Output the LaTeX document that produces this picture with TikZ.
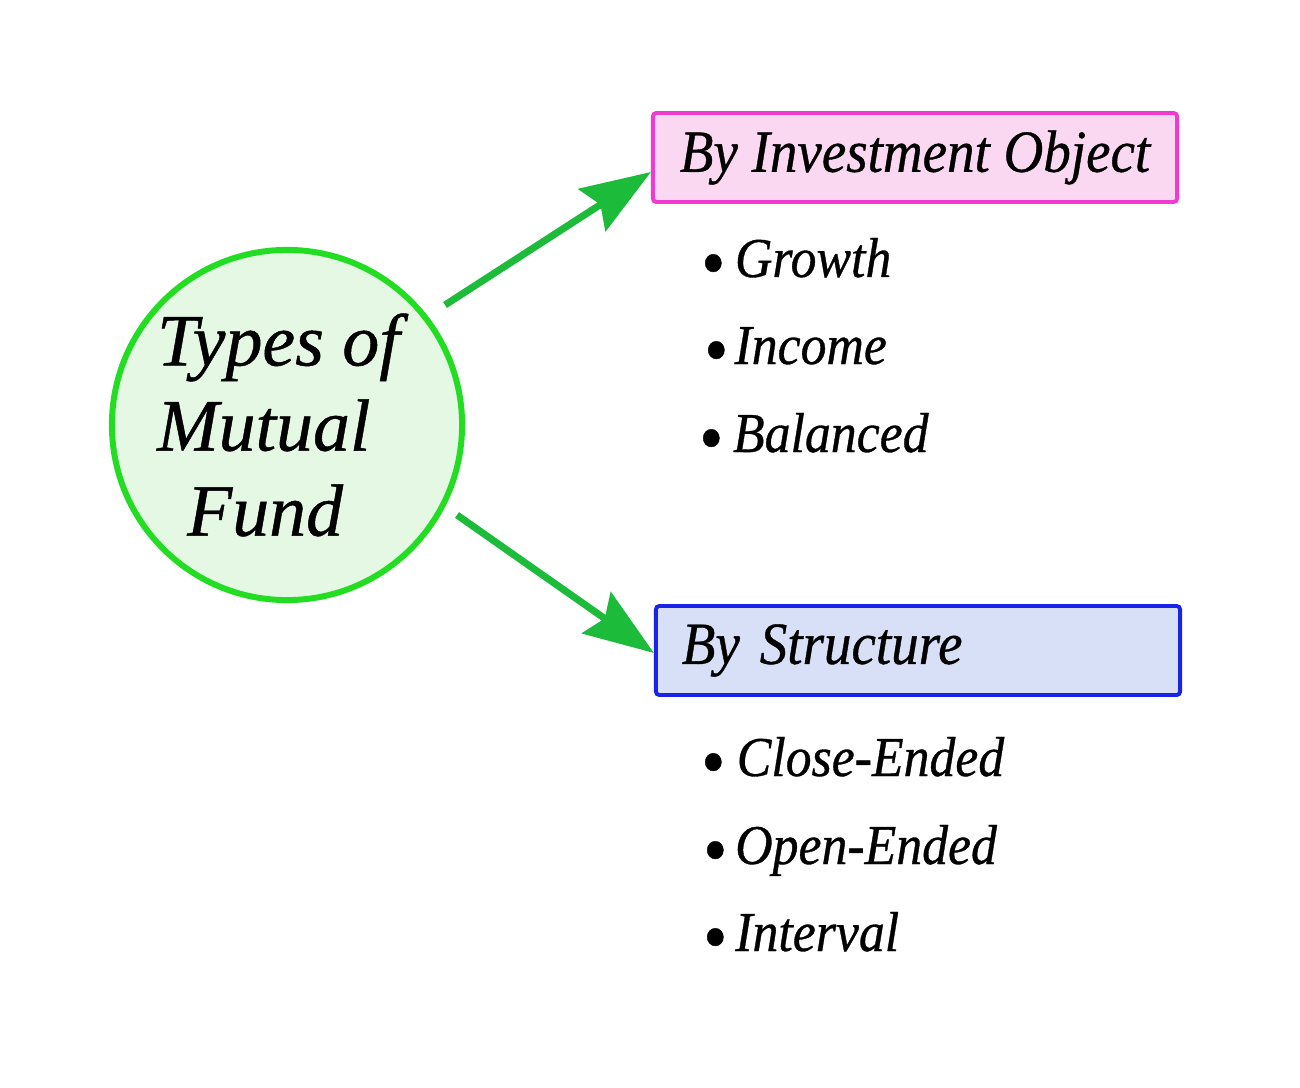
\documentclass[tikz,border=0pt]{standalone}
\usepackage{fontspec}
\setmainfont{Liberation Serif}[FakeBold=0.6]
\newfontfamily\listfont{Liberation Serif}[FakeStretch=0.92, FakeBold=0.6]
\usepackage{tikz}
\usetikzlibrary{arrows.meta, shapes.geometric}

\definecolor{fundgreen}{HTML}{22DD22}
\definecolor{fundfill}{HTML}{E4F8E4}
\definecolor{arrowgreen}{HTML}{1DBB3A}
\definecolor{objline}{HTML}{F03AD2}
\definecolor{objfill}{HTML}{FAD8F2}
\definecolor{strline}{HTML}{1A24E8}
\definecolor{strfill}{HTML}{D8E0F8}

\newcommand{\itembullet}{\raisebox{-3pt}{\fontsize{21}{21}\selectfont\textbullet}}

\begin{document}
\begin{tikzpicture} [x=0.01cm, y=-0.01cm,
  catbox/.style = {draw, rectangle, rounded corners=1pt, line width=1.1pt,
    minimum width=5.24cm, minimum height=0.89cm, inner sep=0pt,
    font=\listfont\fontsize{17}{20}\selectfont\itshape},
  item/.style = {anchor=base west, inner sep=0pt, font=\listfont\fontsize{16}{19}\selectfont\itshape},
  link/.style = {draw=arrowgreen, line width=2pt,
    -{Stealth[length=7mm, width=5mm, inset=1mm, fill=arrowgreen]}}]
\useasboundingbox (0,0) rectangle (1300,1088);
% main circle
\node[draw=fundgreen, fill=fundfill, circle, line width=1.7pt, minimum size=3.5cm, inner sep=0pt] (fund) at (287,425) {};
\node[align=left, inner sep=0pt, font=\fontsize{21}{24.2}\selectfont\itshape] (fundtext) at ([xshift=-0.085cm]fund.center)
  {Types of\\Mutual\\\hspace{0.3cm}Fund};
% the two groups
\node[catbox, draw=objline, fill=objfill] (inv) at (915,157.5) {By Investment Object};
\node[catbox, draw=strline, fill=strfill, text width=4.72cm, align=left, inner xsep=0.26cm] (str) at (918,650.5) {By Structure};
% items
\node[item] (grow) at (700,277) {\itembullet\hspace{3pt}Growth};
\node[item] (inc)  at (703,364) {\itembullet\hspace{2pt}Income};
\node[item] (bal)  at (698,452) {\itembullet\hspace{3pt}Balanced};
\node[item] (close) at (700,776) {\itembullet\hspace{3.5pt}Close-Ended};
\node[item] (open)  at (702,864) {\itembullet\hspace{2.5pt}Open-Ended};
\node[item] (intv)  at (702,951) {\itembullet\hspace{2.5pt}Interval};
% arrows
\coordinate (s1) at (445,305);
\coordinate (s2) at (457,515);
\draw[link] (s1) -- ([yshift=-0.145cm]inv.west);
\draw[link] (s2) -- ([yshift=-0.025cm]str.west);
\end{tikzpicture}
\end{document}
